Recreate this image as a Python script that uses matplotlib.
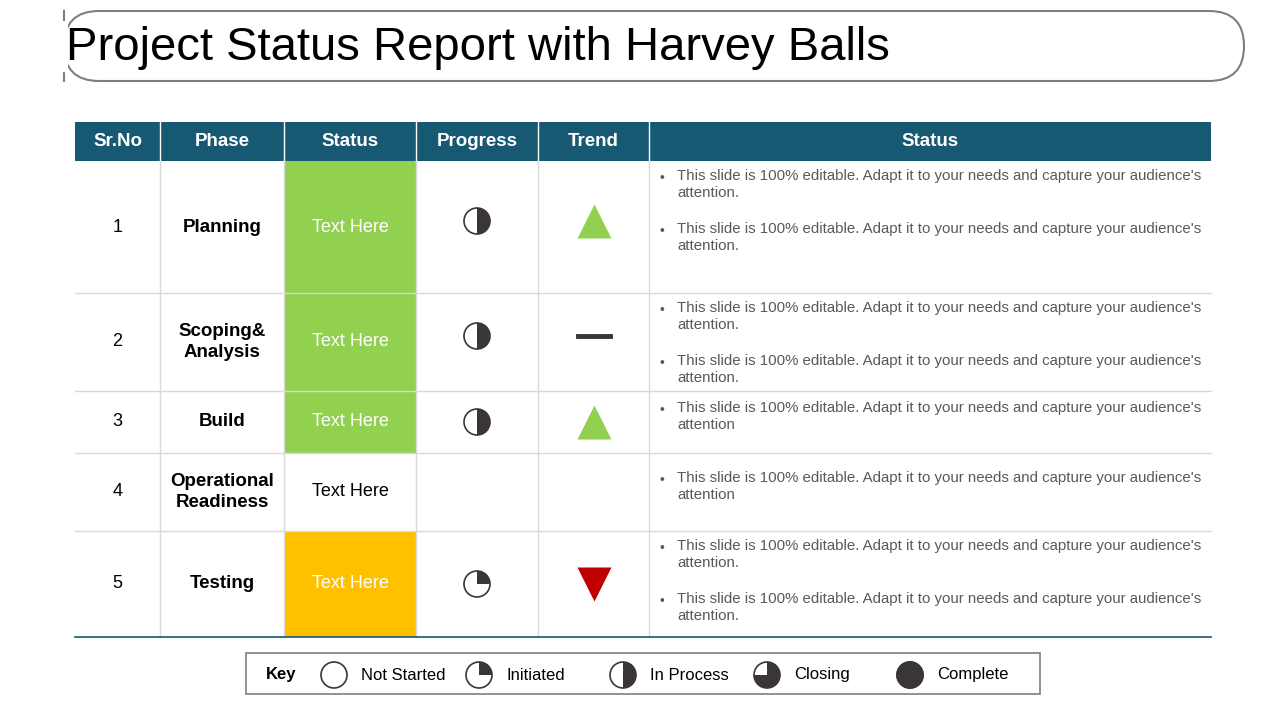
import matplotlib
matplotlib.use("Agg")
import matplotlib.pyplot as plt
from matplotlib.patches import Rectangle, Circle, Wedge, FancyBboxPatch

plt.rcParams['font.family'] = ['Liberation Sans', 'DejaVu Sans']

title = "Project Status Report with Harvey Balls"
headers = ["Sr.No", "Phase", "Status", "Progress", "Trend", "Status"]
sr_no = ["1", "2", "3", "4", "5"]
phases = ["Planning", "Scoping&\nAnalysis", "Build", "Operational\nReadiness", "Testing"]
status_text = ["Text Here"] * 5
status_colors = ["#92D050", "#92D050", "#92D050", None, "#FFC000"]
progress = [0.5, 0.5, 0.5, None, 0.25]
trend = ["up", "flat", "up", None, "down"]
LONG = "This slide is 100% editable. Adapt it to your needs and capture your audience's\nattention."
LONG2 = "This slide is 100% editable. Adapt it to your needs and capture your audience's\nattention"
notes = [[LONG, LONG], [LONG, LONG], [LONG2], [LONG2], [LONG, LONG]]
key_labels = ["Not Started", "Initiated", "In Process", "Closing", "Complete"]
key_fracs = [0.0, 0.25, 0.5, 0.75, 1.0]

W, H = 1280, 720
fig = plt.figure(figsize=(12.8, 7.2), dpi=100)
ax = fig.add_axes([0, 0, 1, 1])
ax.set_xlim(0, W); ax.set_ylim(0, H); ax.axis('off')
def Y(p): return H - p

DARK = "#3A3536"
def harvey(cx, cy, r, f):
    ax.add_patch(Circle((cx, Y(cy)), r, facecolor='white', edgecolor=DARK, lw=1.2, zorder=3))
    if f > 0:
        if f >= 1:
            ax.add_patch(Circle((cx, Y(cy)), r, facecolor=DARK, edgecolor=DARK, lw=1.2, zorder=4))
        else:
            ax.add_patch(Wedge((cx, Y(cy)), r, 90 - 360 * f, 90, facecolor=DARK, edgecolor='none', zorder=4))

# title frame
ax.add_patch(FancyBboxPatch((64, Y(81)), 1180, 70, boxstyle="round,pad=0,rounding_size=35",
                            facecolor='none', edgecolor='#7F7F7F', lw=1.5))
ax.add_patch(Rectangle((60, Y(85)), 8, 78, facecolor='white', edgecolor='none', zorder=2))
ax.plot([64, 64], [Y(11), Y(20)], color='#7F7F7F', lw=1.5, zorder=3)
ax.plot([64, 64], [Y(73), Y(81)], color='#7F7F7F', lw=1.5, zorder=3)
ax.text(66, Y(48), title, fontsize=34, va='center', ha='left', zorder=4)

cols = [75, 160, 284, 416, 538, 649, 1211]
rows = [161, 293, 391, 453, 531, 637]
HEAD = "#175873"
ax.add_patch(Rectangle((cols[0], Y(rows[0])), cols[-1] - cols[0], rows[0] - 122, facecolor=HEAD, edgecolor='none'))
for i, h in enumerate(headers):
    cx = (cols[i] + cols[i + 1]) / 2
    ax.text(cx, Y(142), h, color='white', fontsize=13.5, fontweight='bold', ha='center', va='center')
    if 0 < i:
        ax.plot([cols[i], cols[i]], [Y(122), Y(161)], color='white', lw=1)

for r in range(5):
    top, bot = rows[r], rows[r + 1]
    cy = (top + bot) / 2
    if status_colors[r]:
        ax.add_patch(Rectangle((cols[2], Y(bot)), cols[3] - cols[2], bot - top, facecolor=status_colors[r], edgecolor='none'))
    ax.text((cols[0] + cols[1]) / 2, Y(cy), sr_no[r], fontsize=13, ha='center', va='center')
    ax.text((cols[1] + cols[2]) / 2, Y(cy), phases[r], fontsize=13.5, fontweight='bold', ha='center', va='center', linespacing=1.25)
    ax.text((cols[2] + cols[3]) / 2, Y(cy), status_text[r], fontsize=13,
            color='white' if status_colors[r] else 'black', ha='center', va='center')
    pcx = (cols[3] + cols[4]) / 2
    if progress[r] is not None:
        harvey(pcx, cy - 6 if r < 2 else cy, 13, progress[r])
    tcx = (cols[4] + cols[5]) / 2
    ty = Y(cy - 6 if r < 2 else cy)
    if trend[r] == "up":
        ax.plot(tcx, ty, marker='^', ms=24, color='#92D050', mec='none')
    elif trend[r] == "down":
        ax.plot(tcx, ty, marker='v', ms=24, color='#C00000', mec='none')
    elif trend[r] == "flat":
        ax.plot([tcx - 16, tcx + 16], [ty, ty], color=DARK, lw=3.5)
    n = notes[r]
    if len(n) == 2:
        ys = [top + 8, top + 61]
    else:
        ys = [cy - 21]
    for t, yy in zip(n, ys):
        ax.text(660, Y(yy + 9), "•", fontsize=10, color='#595959', ha='left', va='center')
        ax.text(677, Y(yy), t, fontsize=10.8, color='#595959', ha='left', va='top', linespacing=1.3)
    if r < 4:
        ax.plot([cols[0], cols[-1]], [Y(bot), Y(bot)], color='#D9D9D9', lw=1)
for c in cols[1:-1]:
    ax.plot([c, c], [Y(161), Y(637)], color='#D9D9D9', lw=1)
ax.plot([cols[0], cols[-1]], [Y(637), Y(637)], color=HEAD, lw=1.2)

# key
ax.add_patch(Rectangle((246, Y(694)), 794, 41, facecolor='white', edgecolor='#7F7F7F', lw=1.2))
ax.text(266, Y(674), "Key", fontsize=12, fontweight='bold', ha='left', va='center')
kx = [334, 479, 623, 767, 910]
for x, lab, f in zip(kx, key_labels, key_fracs):
    harvey(x, 675, 13, f)
    ax.text(x + 27, Y(675), lab, fontsize=12, ha='left', va='center')

fig.savefig("out.png", dpi=100)
